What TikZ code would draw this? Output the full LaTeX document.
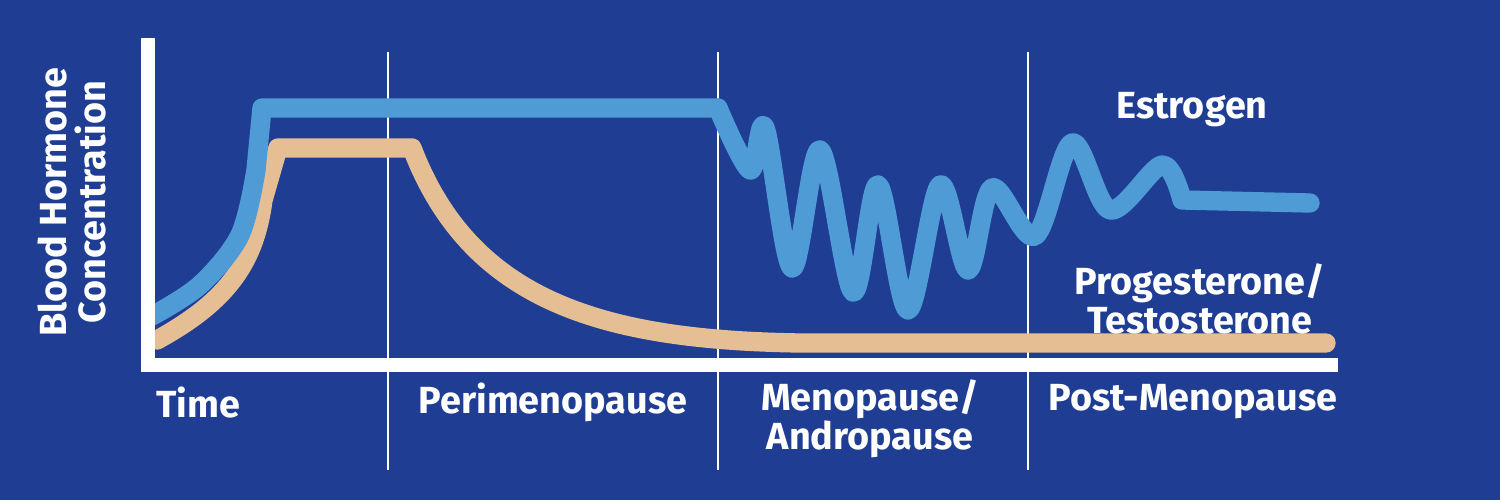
\documentclass[tikz,border=0pt]{standalone}
\usepackage{fontspec}
\setmainfont{Fira Sans}
\usetikzlibrary{calc}
\definecolor{bgblue}{HTML}{1F3D93}
\definecolor{estro}{HTML}{4F9BD6}
\definecolor{proge}{HTML}{E6BE93}
\tikzset{lab/.style={text=white,font=\bfseries\fontsize{21.5}{22}\selectfont,align=center},
	divider/.style={draw=white,line width=1.5pt},
	hormone/.style={line width=11pt,line cap=round,line join=round}}
\begin{document}
\begin{tikzpicture}[x=0.02cm,y=-0.02cm]
			\fill[bgblue] (0,0) rectangle (1500,500);
			\useasboundingbox (0,0) rectangle (1500,500);
			
			%dividers
			\coordinate(d1) at (388,52);
			\coordinate(d2) at (718,52);
			\coordinate(d3) at (1028,52);
			\draw[divider] (d1)--($(d1)+(0,418)$);
			\draw[divider] (d2)--($(d2)+(0,418)$);
			\draw[divider] (d3)--($(d3)+(0,418)$);
			
			%curves
			\draw[hormone,proge] (157,340) .. controls (230,300) and (255,260) .. (263,200)
				-- (278,148) -- (412,148) .. controls (470,300) and (600,340) .. (800,343) -- (1326,343);
			\draw[hormone,estro] plot[smooth,tension=0.55] coordinates {(152,316) (200,285) (240,235) (256,170)}
				-- (262,108) -- (718,108);
			\draw[hormone,estro] plot[smooth,tension=0.55] coordinates {(718,108) (750,170) (765,128) (792,268) (820,150)
				(853,292) (878,185) (908,310) (940,185) (968,270) (992,188) (1035,236) (1072,143) (1110,210) (1162,165) (1182,200)}
				-- (1310,203);
			
			%axes
			\coordinate(o) at (148,365);
			\draw[white,line width=8pt] ($(o)+(0,-327)$)--(o)--($(o)+(1190,0)$);
			
			\node[lab](time) at (198,402) {Time};
			\node[lab](peri) at (553,402) {Perimenopause};
			\node[lab](meno) at (870,419) {Menopause/\\Andropause};
			\node[lab](post) at (1193,402) {Post-Menopause};
			\node[lab](est) at (1192,110) {Estrogen};
			\node[lab](pro) at (1200,299) {Progesterone/\\Testosterone};
			\node[lab,rotate=90](ylab) at (72,202) {Blood Hormone\\Concentration};
		\end{tikzpicture}
\end{document}
